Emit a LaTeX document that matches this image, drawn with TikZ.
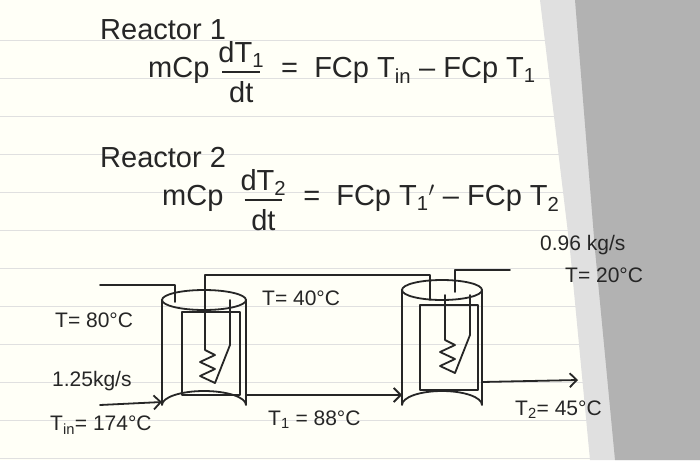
\documentclass[tikz,border=0pt]{standalone}
\usepackage{amsmath}
\usepackage{fontspec}
\setmainfont{Liberation Sans}
\usetikzlibrary{arrows.meta}
\newcommand{\fr}[2]{\tikz[baseline=-0.55ex,x=1cm,y=1cm]{\node[inner sep=1pt,anchor=center] at (0,0.5em) {#1};\node[inner sep=1pt,anchor=center] at (0,-0.8em) {#2};\draw[line width=1.6pt] (-0.65em,-0.1em) -- (0.65em,-0.1em);}}
\begin{document}
\begin{tikzpicture}[x=1pt,y=-1pt,
  ink/.style={draw=black!85,line width=1.8pt,line cap=round,line join=round},
  txt/.style={font=\fontsize{29}{32}\selectfont,text=black!85,inner sep=0pt},
  lbl/.style={font=\fontsize{21}{24}\selectfont,text=black!85,inner sep=0pt,anchor=west},
  arr/.style={ink,-{Straight Barb[length=7pt]}}]
\useasboundingbox (0,0) rectangle (700,460);
\fill[white!97!yellow] (0,0) rectangle (700,460);
\foreach \y in {40,78,116,154,192,230,268,306,344,382,420,458}
  \draw[black!12,line width=0.8pt] (0,\y) -- (700,\y);
\fill[black!12] (540,0) -- (700,0) -- (700,460) -- (590,460) -- (570,250) -- cycle;
\fill[black!30] (575,0) -- (700,0) -- (700,460) -- (615,460) -- (595,250) -- cycle;
% equations
\node[txt,anchor=west] (r1) at (100,30) {Reactor 1};
\node[txt,anchor=west] (e1) at (148,72) {mCp \fr{dT\textsubscript{1}}{dt}\ \ =\ \ FCp T\textsubscript{in} -- FCp T\textsubscript{1}};
\node[txt,anchor=west] (r2) at (100,158) {Reactor 2};
\node[txt,anchor=west] (e2) at (162,200) {mCp \ \fr{dT\textsubscript{2}}{dt}\ \ =\ \ FCp T\textsubscript{1}$'$ -- FCp T\textsubscript{2}};
% reactor 1
\draw[ink] (162,300) -- (162,405) arc[start angle=180,end angle=360,x radius=42,y radius=14] -- (246,300);
\draw[ink] (204,300) ellipse[x radius=42,y radius=10];
\draw[ink] (182,312) rectangle (240,395);
\draw[ink] (205,300) -- (205,350) -- (215,355) -- (200,362) -- (215,369) -- (200,376) -- (215,383) -- (230,345) -- (230,300);
% reactor 2
\draw[ink] (402,290) -- (402,405) arc[start angle=180,end angle=360,x radius=40,y radius=14] -- (482,290);
\draw[ink] (442,290) ellipse[x radius=40,y radius=10];
\draw[ink] (420,305) rectangle (478,390);
\draw[ink] (445,295) -- (445,340) -- (455,345) -- (440,352) -- (455,359) -- (440,366) -- (455,373) -- (470,335) -- (470,295);
% piping
\draw[ink] (100,285) -- (175,285) -- (175,302);
\draw[ink] (205,300) -- (205,275) -- (430,275) -- (430,300);
\draw[ink] (455,292) -- (455,270) -- (510,270);
\draw[arr] (100,405) -- (162,402);
\draw[arr] (246,395) -- (402,395);
\draw[arr] (482,382) -- (578,380);
% labels
\node[lbl] (t80) at (55,320) {T= 80°C};
\node[lbl] (t40) at (262,298) {T= 40°C};
\node[lbl] (f1) at (52,381) {1.25kg/s};
\node[lbl] (tin) at (50,425) {T\textsubscript{in}= 174°C};
\node[lbl] (t1) at (268,420) {T\textsubscript{1} = 88°C};
\node[lbl] (t2) at (515,410) {T\textsubscript{2}= 45°C};
\node[lbl] (f2) at (540,245) {0.96 kg/s};
\node[lbl] (t20) at (565,275) {T= 20°C};
\end{tikzpicture}
\end{document}
